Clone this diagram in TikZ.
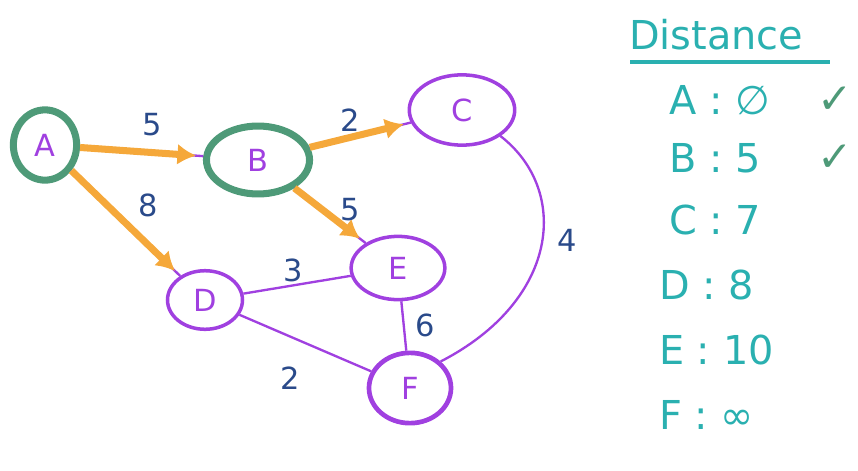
\documentclass[tikz,border=0pt]{standalone}
\usepackage{fontspec}
\setmainfont{DejaVu Sans}
\usetikzlibrary{shapes.geometric,arrows.meta}
\definecolor{pur}{HTML}{A040E0}
\definecolor{org}{HTML}{F5A83A}
\definecolor{grn}{HTML}{4E9A78}
\definecolor{tel}{HTML}{2AB0B0}
\definecolor{lbl}{HTML}{2A4A8A}
\tikzset{
 vert/.style={ellipse,draw=pur,line width=3pt,text=pur,font=\fontsize{26}{28}\selectfont,inner sep=0pt},
 visited/.style={vert,draw=grn,line width=6pt},
 edge/.style={pur,line width=2pt},
 hot/.style={org,line width=6pt,-{Latex[length=16pt,width=18pt]},shorten >=6pt},
 wt/.style={text=lbl,font=\fontsize{26}{28}\selectfont},
 tab/.style={text=tel,font=\fontsize{34}{36}\selectfont,anchor=west},
 tick/.style={text=grn,font=\fontsize{36}{38}\selectfont}
}
\begin{document}
\begin{tikzpicture}[x=0.03cm,y=-0.03cm]
\useasboundingbox (0,0) rectangle (858,470);
\node[visited,minimum width=54,minimum height=60] (A) at (45,145) {A};
\node[visited,minimum width=88,minimum height=58] (B) at (258,160) {B};
\node[vert,minimum width=90,minimum height=60] (C) at (462,110) {C};
\node[vert,minimum width=64,minimum height=50] (D) at (205,300) {D};
\node[vert,minimum width=80,minimum height=54] (E) at (398,268) {E};
\node[vert,line width=4pt,minimum width=70,minimum height=60] (F) at (410,388) {F};
\draw[edge] (A) -- (B);
\draw[edge] (A) -- (D);
\draw[edge] (B) -- (C);
\draw[edge] (B) -- (E);
\draw[edge] (D) -- (E);
\draw[edge] (D) -- (F);
\draw[edge] (E) -- (F);
\draw[edge] (F.north east) .. controls (560,300) and (570,190) .. (C.south east);
\draw[hot] (A) -- (B);
\draw[hot] (A) -- (D);
\draw[hot] (B) -- (C);
\draw[hot] (B) -- (E);
\node[wt] (w1) at (152,125) {5};
\node[wt] (w2) at (148,205) {8};
\node[wt] (w3) at (350,120) {2};
\node[wt] (w4) at (350,210) {5};
\node[wt] (w5) at (293,270) {3};
\node[wt] (w6) at (290,378) {2};
\node[wt] (w7) at (425,325) {6};
\node[wt] (w8) at (567,240) {4};
\node[tab] (t0) at (625,35) {Distance};
\draw[tel,line width=3pt] (630,62) -- (830,62);
\node[tab] (t1) at (665,100) {A : ∅};
\node[tab] (t2) at (665,158) {B : 5};
\node[tab] (t3) at (665,220) {C : 7};
\node[tab] (t4) at (655,285) {D : 8};
\node[tab] (t5) at (655,350) {E : 10};
\node[tab] (t6) at (655,415) {F : ∞};
\node[tick] (k1) at (835,100) {✓};
\node[tick] (k2) at (835,158) {✓};
\end{tikzpicture}
\end{document}
